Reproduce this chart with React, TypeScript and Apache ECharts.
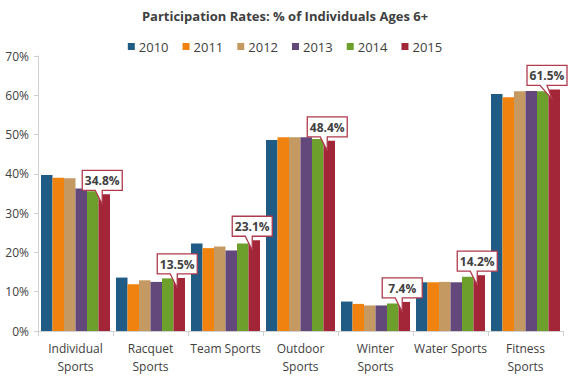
import React, { useEffect, useRef } from "react";
import * as echarts from "echarts";

const categories = [
  "Individual\nSports",
  "Racquet\nSports",
  "Team Sports",
  "Outdoor\nSports",
  "Winter\nSports",
  "Water Sports",
  "Fitness\nSports",
];
const years = ["2010", "2011", "2012", "2013", "2014", "2015"];
const v2010 = [39.7, 13.6, 22.3, 48.6, 7.5, 12.4, 60.3];
const v2011 = [39.0, 11.9, 21.1, 49.3, 6.9, 12.4, 59.5];
const v2012 = [38.9, 12.9, 21.5, 49.3, 6.5, 12.5, 61.0];
const v2013 = [36.3, 12.5, 20.5, 49.3, 6.5, 12.4, 61.1];
const v2014 = [35.6, 13.4, 22.3, 48.9, 7.0, 13.8, 61.0];
const v2015 = [34.8, 13.5, 23.1, 48.4, 7.4, 14.2, 61.5];
const seriesValues = [v2010, v2011, v2012, v2013, v2014, v2015];
const colors = ["#1f5b84", "#f0830f", "#c49a62", "#62487b", "#6c9f2c", "#a32638"];
const yTicks = { min: 0, max: 70, interval: 10 };

const FONT = "'Open Sans', sans-serif";
const GAP = 0.08;

export default function App() {
  const ref = useRef<HTMLDivElement>(null);
  useEffect(() => {
    if (!ref.current) return;
    const chart = echarts.init(ref.current, undefined, { renderer: "svg" });
    const bars = years.map((y, i) => ({
      name: y,
      type: "bar",
      data: seriesValues[i],
      barGap: "0%",
      barCategoryGap: GAP * 100 + "%",
      itemStyle: { color: colors[i] },
    }));
    const callout = {
      type: "custom",
      name: "callout",
      z: 10,
      clip: false,
      data: v2015.map((v, i) => [i, v]),
      renderItem: (params: any, api: any) => {
        const ci = api.value(0);
        const v = api.value(1);
        const p = api.coord([ci, v]);
        const bw = api.size([1, 0])[0];
        const barW = (bw * (1 - GAP)) / 6;
        const barCx = p[0] + 2.5 * barW;
        const boxW = 40;
        const boxH = 20;
        let bcx = barCx - 2;
        if (bcx + boxW / 2 > 567) bcx = 567 - boxW / 2;
        const bottom = p[1] - 4;
        const top = bottom - boxH;
        const left = bcx - boxW / 2;
        const right = bcx + boxW / 2;
        const tipX = barCx - 2;
        const tipY = p[1] + 10;
        return {
          type: "group",
          children: [
            {
              type: "polygon",
              shape: {
                points: [
                  [left, top],
                  [right, top],
                  [right, bottom],
                  [bcx, bottom],
                  [tipX, tipY],
                  [bcx - 7, bottom],
                  [left, bottom],
                ],
              },
              style: { fill: "#ffffff", stroke: "#b03a4e", lineWidth: 1.3 },
            },
            {
              type: "text",
              x: bcx,
              y: top + boxH / 2 + 0.5,
              style: {
                text: v.toFixed(1) + "%",
                fill: "#404040",
                font: "bold 12px " + FONT,
                align: "center",
                verticalAlign: "middle",
              },
            },
          ],
        };
      },
    };
    chart.setOption({
      animation: false,
      title: {
        text: "Participation Rates: % of Individuals Ages 6+",
        left: "center",
        top: 4,
        textStyle: { fontFamily: FONT, fontSize: 13, fontWeight: "bold", color: "#404040" },
      },
      legend: {
        data: years,
        top: 35,
        left: "center",
        itemWidth: 7,
        itemHeight: 7,
        itemGap: 14,
        icon: "rect",
        textStyle: { fontFamily: FONT, fontSize: 13, color: "#404040", padding: [0, 0, 0, -1] },
      },
      grid: { left: 38, right: 7, top: 56, bottom: 53, containLabel: false },
      xAxis: {
        type: "category",
        data: categories,
        axisLine: { lineStyle: { color: "#d0d0d0" } },
        axisTick: { show: true, length: 5, lineStyle: { color: "#d0d0d0" } },
        axisLabel: {
          interval: 0,
          fontFamily: FONT,
          fontSize: 12,
          color: "#404040",
          lineHeight: 18,
          margin: 8,
        },
      },
      yAxis: {
        type: "value",
        min: yTicks.min,
        max: yTicks.max,
        interval: yTicks.interval,
        splitLine: { show: false },
        axisLine: { show: true, lineStyle: { color: "#d0d0d0" } },
        axisTick: { show: true, length: 4, lineStyle: { color: "#d0d0d0" } },
        axisLabel: {
          formatter: "{value}%",
          fontFamily: FONT,
          fontSize: 12,
          color: "#404040",
          margin: 9,
        },
      },
      series: [...bars, callout],
    });
    return () => chart.dispose();
  }, []);
  return <div ref={ref} style={{ width: 570, height: 384, position: "absolute", left: 0, top: 0 }} />;
}
